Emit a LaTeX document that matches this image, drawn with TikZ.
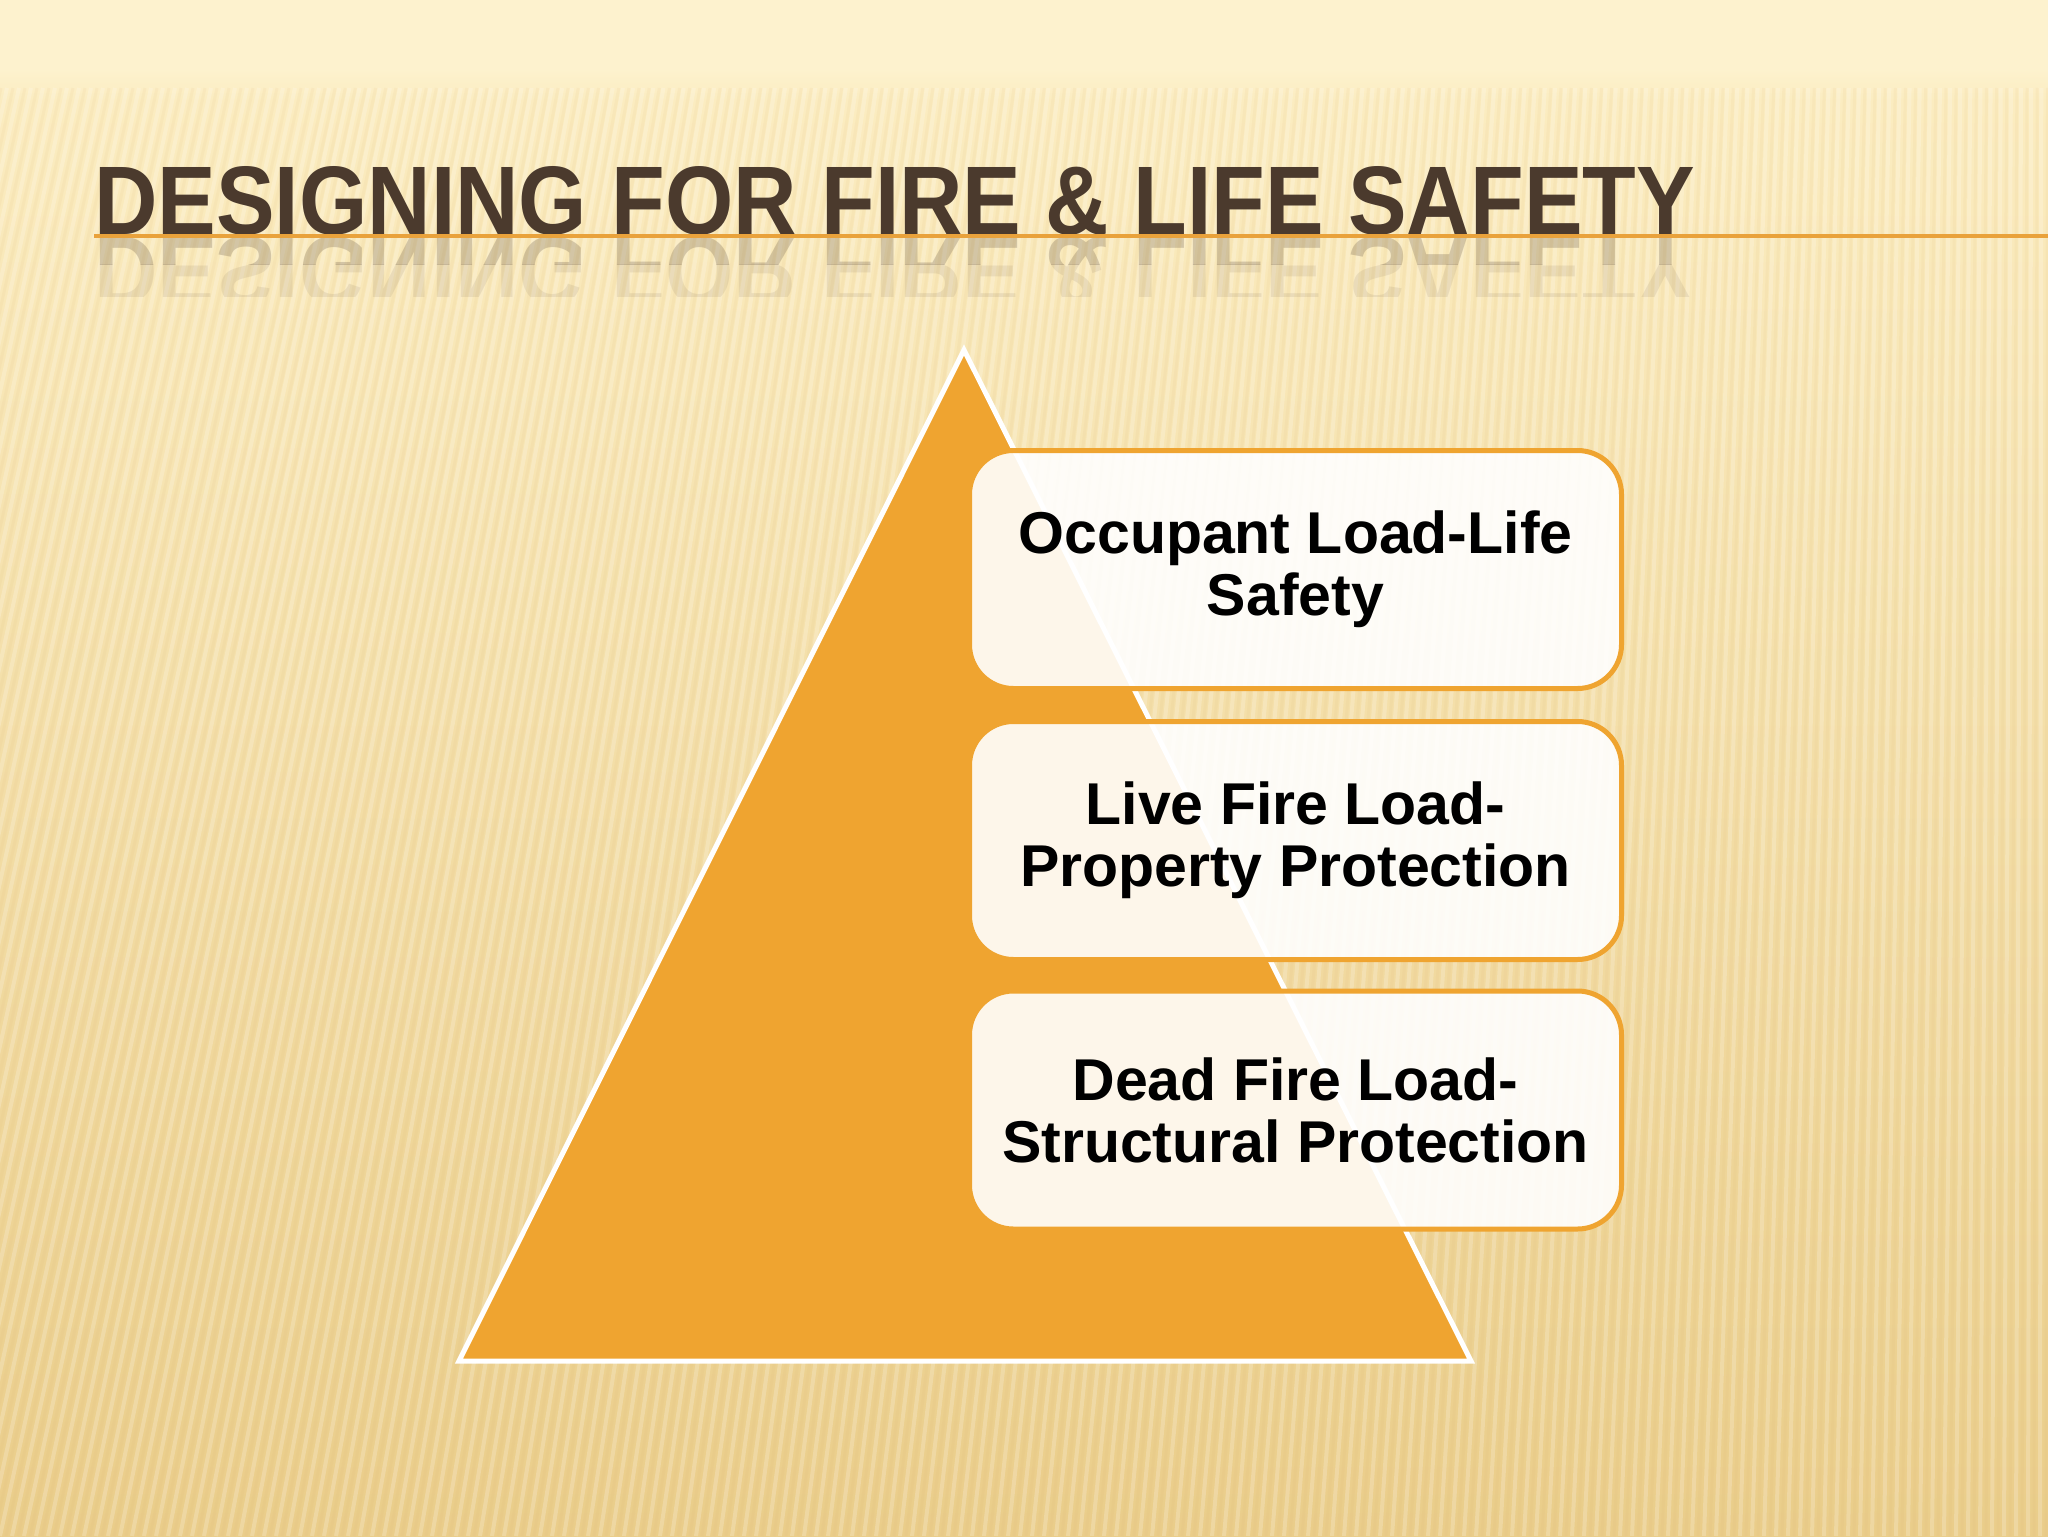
\documentclass[tikz,border=0pt]{standalone}
\usepackage{fontspec}
\setmainfont{Liberation Sans}
\usepackage{graphicx}
\definecolor{bgtop}{HTML}{FDF2CE}
\definecolor{bgmid}{HTML}{FBECC0}
\definecolor{bgbot}{HTML}{EACD8A}
\definecolor{tri}{HTML}{EFA430}
\definecolor{rule}{HTML}{E9A23B}
\definecolor{titlebrown}{HTML}{4B3A2D}
\tikzset{
  stepbox/.style={draw=tri, line width=2.5pt, fill=white, fill opacity=0.9, text opacity=1,
    rounded corners=22pt, minimum width=326pt, minimum height=119pt, align=center,
    inner sep=0pt, text=black, font=\fontsize{29.5pt}{31pt}\selectfont\bfseries},
  stripe/.style={white, line width=2pt, opacity=0.2},
  stripedark/.style={bgbot!70!brown, line width=1.5pt, opacity=0.09}
}
\newcommand{\mytitletext}{\resizebox{800pt}{34pt}{\bfseries DESIGNING FOR FIRE \& LIFE SAFETY}}
\begin{document}
\begin{tikzpicture}[x=0.5pt,y=-0.5pt]
\useasboundingbox (0,0) rectangle (2048,1536);
% background
\shade[top color=bgmid, bottom color=bgbot] (0,100) rectangle (2048,1536);
\fill[bgtop] (0,0) rectangle (2048,70);
\shade[top color=bgtop, bottom color=bgmid] (0,69) rectangle (2048,101);
% stripes
\begin{scope}
\clip (0,88) rectangle (2048,1536);
\foreach \i in {-28,...,175}{
  \pgfmathsetmacro{\xb}{\i*12-60}
  \pgfmathsetmacro{\xt}{\xb+0.22*(1-max(\xb,0)/2048)*1450}
  \draw[stripe] (\xt,88) -- (\xb,1536);
  \draw[stripedark] (\xt+6,88) -- (\xb+6,1536);
}
\end{scope}
% title
\node[anchor=base west, inner sep=0pt, text=titlebrown] (title) at (94,234) {\mytitletext};
\begin{scope}
  \clip (0,238) rectangle (2048,264);
  \node[anchor=base west, inner sep=0pt, text=titlebrown, opacity=0.22] (refl1) at (94,237) {\scalebox{1}[-1]{\mytitletext}};
\end{scope}
\begin{scope}
  \clip (0,264) rectangle (2048,296);
  \node[anchor=base west, inner sep=0pt, text=titlebrown, opacity=0.09] (refl2) at (94,237) {\scalebox{1}[-1]{\mytitletext}};
\end{scope}
\coordinate (rl) at (94,236);
\coordinate (rr) at (2048,236);
\draw[rule, line width=1.6pt] (rl) -- (rr);
% pyramid
\coordinate (apex) at (964,350);
\coordinate (br) at (1471,1361);
\coordinate (bl) at (459,1361);
\draw[white, line width=2.5pt, fill=tri, line join=miter] (apex) -- (br) -- (bl) -- cycle;
% boxes
\node[stepbox] (b1) at (1295.5,569.5) {Occupant Load-Life\\Safety};
\node[stepbox] (b2) at (1295.5,840.5) {Live Fire Load-\\Property Protection};
\node[stepbox] (b3) at (1295.5,1110) {Dead Fire Load-\\Structural Protection};
\end{tikzpicture}
\end{document}
